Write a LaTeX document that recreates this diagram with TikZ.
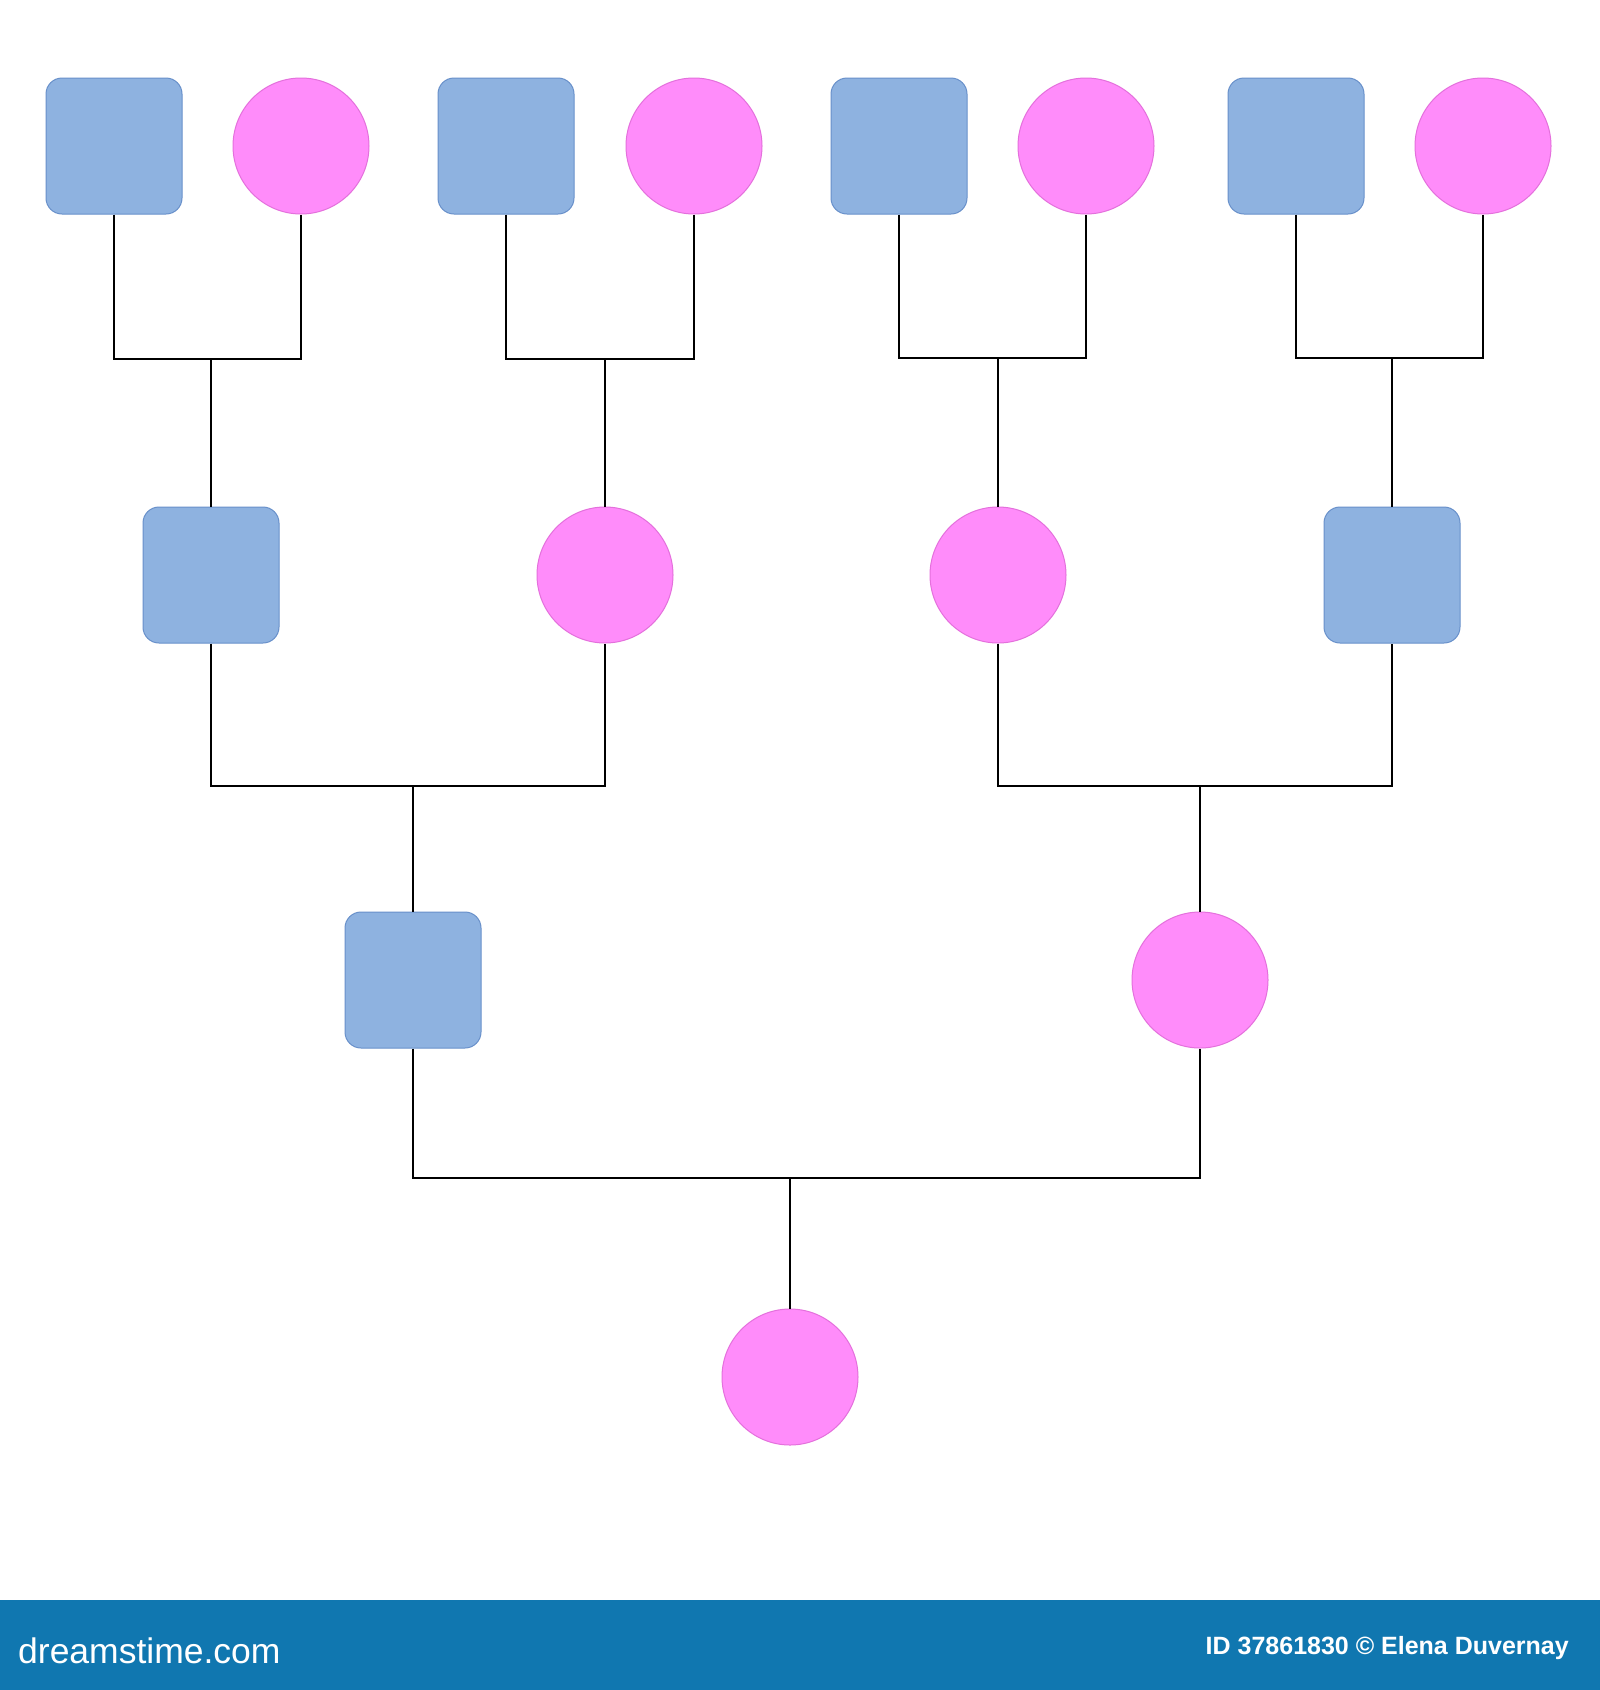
\documentclass[tikz,border=0pt]{standalone}
\usepackage{fontspec}
\setmainfont{Liberation Sans}
\definecolor{mblue}{RGB}{142,178,224}
\definecolor{mblueb}{RGB}{104,144,202}
\definecolor{fpink}{RGB}{255,140,250}
\definecolor{fpinkb}{RGB}{228,112,220}
\definecolor{barblue}{RGB}{16,119,176}
\tikzset{
  male/.style={draw=mblueb, fill=mblue, line width=1pt, rectangle, rounded corners=16pt, minimum width=136pt, minimum height=136pt, inner sep=0pt},
  female/.style={draw=fpinkb, fill=fpink, line width=1pt, circle, minimum size=136pt, inner sep=0pt},
  link/.style={draw=black, line width=1.8pt}
}
\begin{document}
\begin{tikzpicture}[x=1pt, y=-1pt]
\useasboundingbox (0,0) rectangle (1600,1690);
\fill[white] (0,0) rectangle (1600,1600);
% top generation
\node[male]   (m1) at (114,146) {};
\node[female] (f1) at (301,146) {};
\node[male]   (m2) at (506,146) {};
\node[female] (f2) at (694,146) {};
\node[male]   (m3) at (899,146) {};
\node[female] (f3) at (1086,146) {};
\node[male]   (m4) at (1296,146) {};
\node[female] (f4) at (1483,146) {};
% second generation
\node[male]   (a) at (211,575) {};
\node[female] (b) at (605,575) {};
\node[female] (c) at (998,575) {};
\node[male]   (d) at (1392,575) {};
% third generation
\node[male]   (g) at (413,980) {};
\node[female] (h) at (1200,980) {};
% child
\node[female] (i) at (790,1377) {};
% joins
\coordinate (j1) at (211,359);
\coordinate (j2) at (605,359);
\coordinate (j3) at (998,358);
\coordinate (j4) at (1392,358);
\coordinate (k1) at (413,786);
\coordinate (k2) at (1200,786);
\coordinate (l1) at (790,1178);
\draw[link] (m1.south) |- (j1) -| (f1.south);
\draw[link] (j1) -- (a.north);
\draw[link] (m2.south) |- (j2) -| (f2.south);
\draw[link] (j2) -- (b.north);
\draw[link] (m3.south) |- (j3) -| (f3.south);
\draw[link] (j3) -- (c.north);
\draw[link] (m4.south) |- (j4) -| (f4.south);
\draw[link] (j4) -- (d.north);
\draw[link] (a.south) |- (k1) -| (b.south);
\draw[link] (k1) -- (g.north);
\draw[link] (c.south) |- (k2) -| (d.south);
\draw[link] (k2) -- (h.north);
\draw[link] (g.south) |- (l1) -| (h.south);
\draw[link] (l1) -- (i.north);
% bottom bar
\fill[barblue] (0,1600) rectangle (1600,1690);
\node[anchor=base west, text=white, inner sep=0pt, font=\fontsize{35.5}{36}\selectfont] (logo) at (18,1663) {dreamstime.com};
\node[anchor=base east, text=white, inner sep=0pt, font=\bfseries\fontsize{25}{25}\selectfont] (credit) at (1569,1654) {ID 37861830 © Elena Duvernay};
\end{tikzpicture}
\end{document}
